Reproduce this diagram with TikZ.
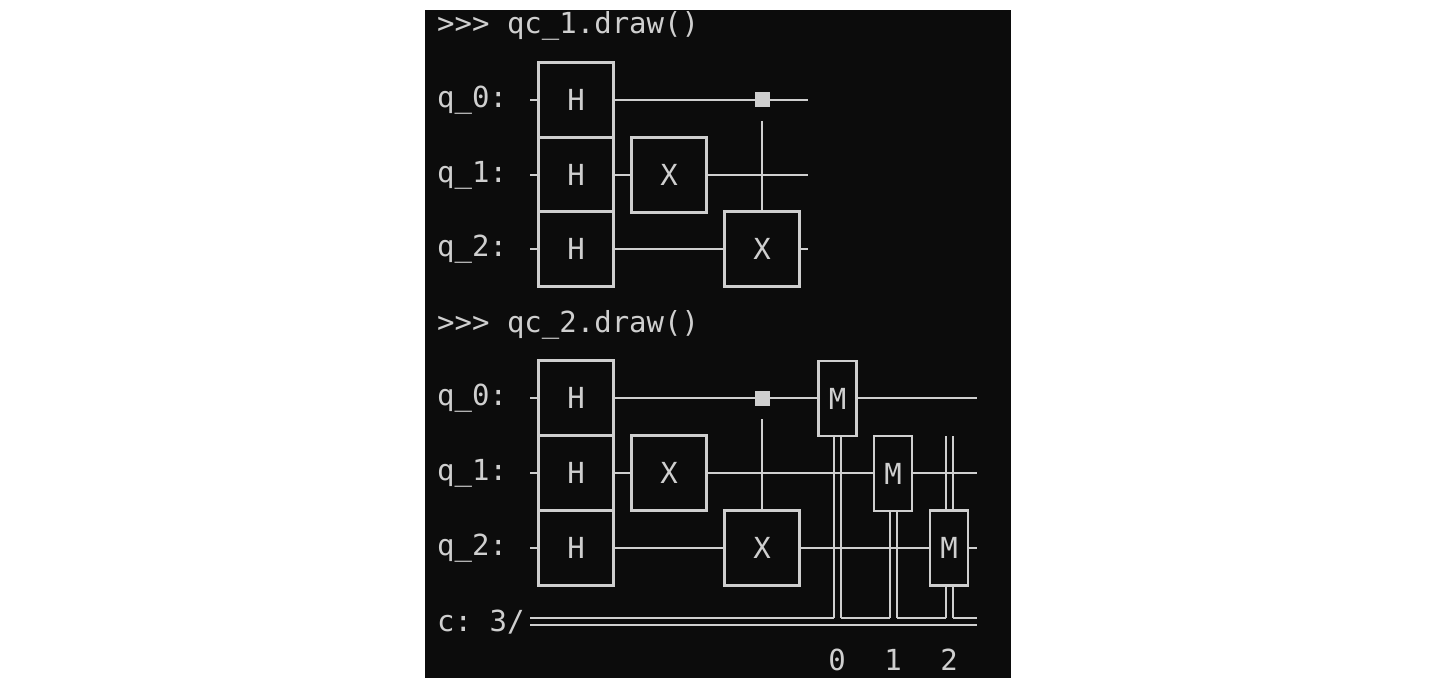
\documentclass[tikz,border=0pt]{standalone}
\usepackage{fontspec}
\setmonofont{DejaVu Sans Mono}
\begin{document}
\begin{tikzpicture}[x=1pt,y=-1pt,
  fg/.style={draw=lg,line width=2.6pt},
  txt/.style={text=lg,font=\ttfamily\fontsize{29}{30}\selectfont,inner sep=0pt},
  gate/.style={fg,fill=bgc,text=lg,font=\ttfamily\fontsize{29}{30}\selectfont,inner sep=0pt,minimum width=75pt,minimum height=75pt},
  meas/.style={gate,minimum width=38pt}]
\definecolor{bgc}{HTML}{0C0C0C}
\definecolor{lg}{HTML}{CFCFCF}
\colorlet{lg}{lg}
\useasboundingbox (0,0) rectangle (1440,687);
\fill[white] (0,0) rectangle (1440,687);
\fill[bgc] (425,10) rectangle (1011,678);
% ---- circuit 1
\node[txt,anchor=west] (t1) at (437,26) {>>> qc\_1.draw()};
\foreach \i/\y in {0/100,1/175,2/249}{
  \node[txt,anchor=west] (a\i) at (437,\y) {q\_\i:};
  \coordinate (s\i) at (530,\y);
  \coordinate (e\i) at (808,\y);
  \draw[fg] (s\i) -- (e\i);
}
\node[gate] (h0) at (576,100) {H};
\node[gate] (h1) at (576,175) {H};
\node[gate] (h2) at (576,249) {H};
\node[gate] (x1) at (669,175) {X};
\node[gate] (x2) at (762,249) {X};
\coordinate (c0) at (762,121);
\draw[fg] (c0) -- (x2.north);
\node[fill=lg,minimum size=15pt,inner sep=0pt] (ct) at (762,100) {};
% ---- circuit 2
\node[txt,anchor=west] (t2) at (437,325) {>>> qc\_2.draw()};
\foreach \i/\y in {0/398,1/473,2/548}{
  \node[txt,anchor=west] (b\i) at (437,\y) {q\_\i:};
  \coordinate (u\i) at (530,\y);
  \coordinate (v\i) at (977,\y);
  \draw[fg] (u\i) -- (v\i);
}
\node[txt,anchor=west] (cl) at (437,622) {c: 3/};
\coordinate (cs1) at (530,618); \coordinate (ce1) at (977,618);
\coordinate (cs2) at (530,625); \coordinate (ce2) at (977,625);
\draw[fg] (cs2) -- (ce2);
\draw[fg] (cs1) -- (834,618) (841,618) -- (890,618) (897,618) -- (946,618) (953,618) -- (ce1);
\foreach \x in {834,841,890,897,946,953}{
  \draw[fg] (\x,436) -- (\x,618);
}
\node[gate] (H0) at (576,398) {H};
\node[gate] (H1) at (576,473) {H};
\node[gate] (H2) at (576,548) {H};
\node[gate] (X1) at (669,473) {X};
\node[gate] (X2) at (762,548) {X};
\coordinate (C0) at (762,419);
\draw[fg] (C0) -- (X2.north);
\node[fill=lg,minimum size=15pt,inner sep=0pt] (CT) at (762,398) {};
\node[meas,minimum height=75pt] (M0) at (837.5,398.5) {M};
\node[meas,minimum height=75pt] (M1) at (893,473.5) {M};
\node[meas,minimum height=75pt] (M2) at (949,548) {M};
\node[txt] (n0) at (837,660) {0};
\node[txt] (n1) at (893,660) {1};
\node[txt] (n2) at (949,660) {2};
\end{tikzpicture}
\end{document}
